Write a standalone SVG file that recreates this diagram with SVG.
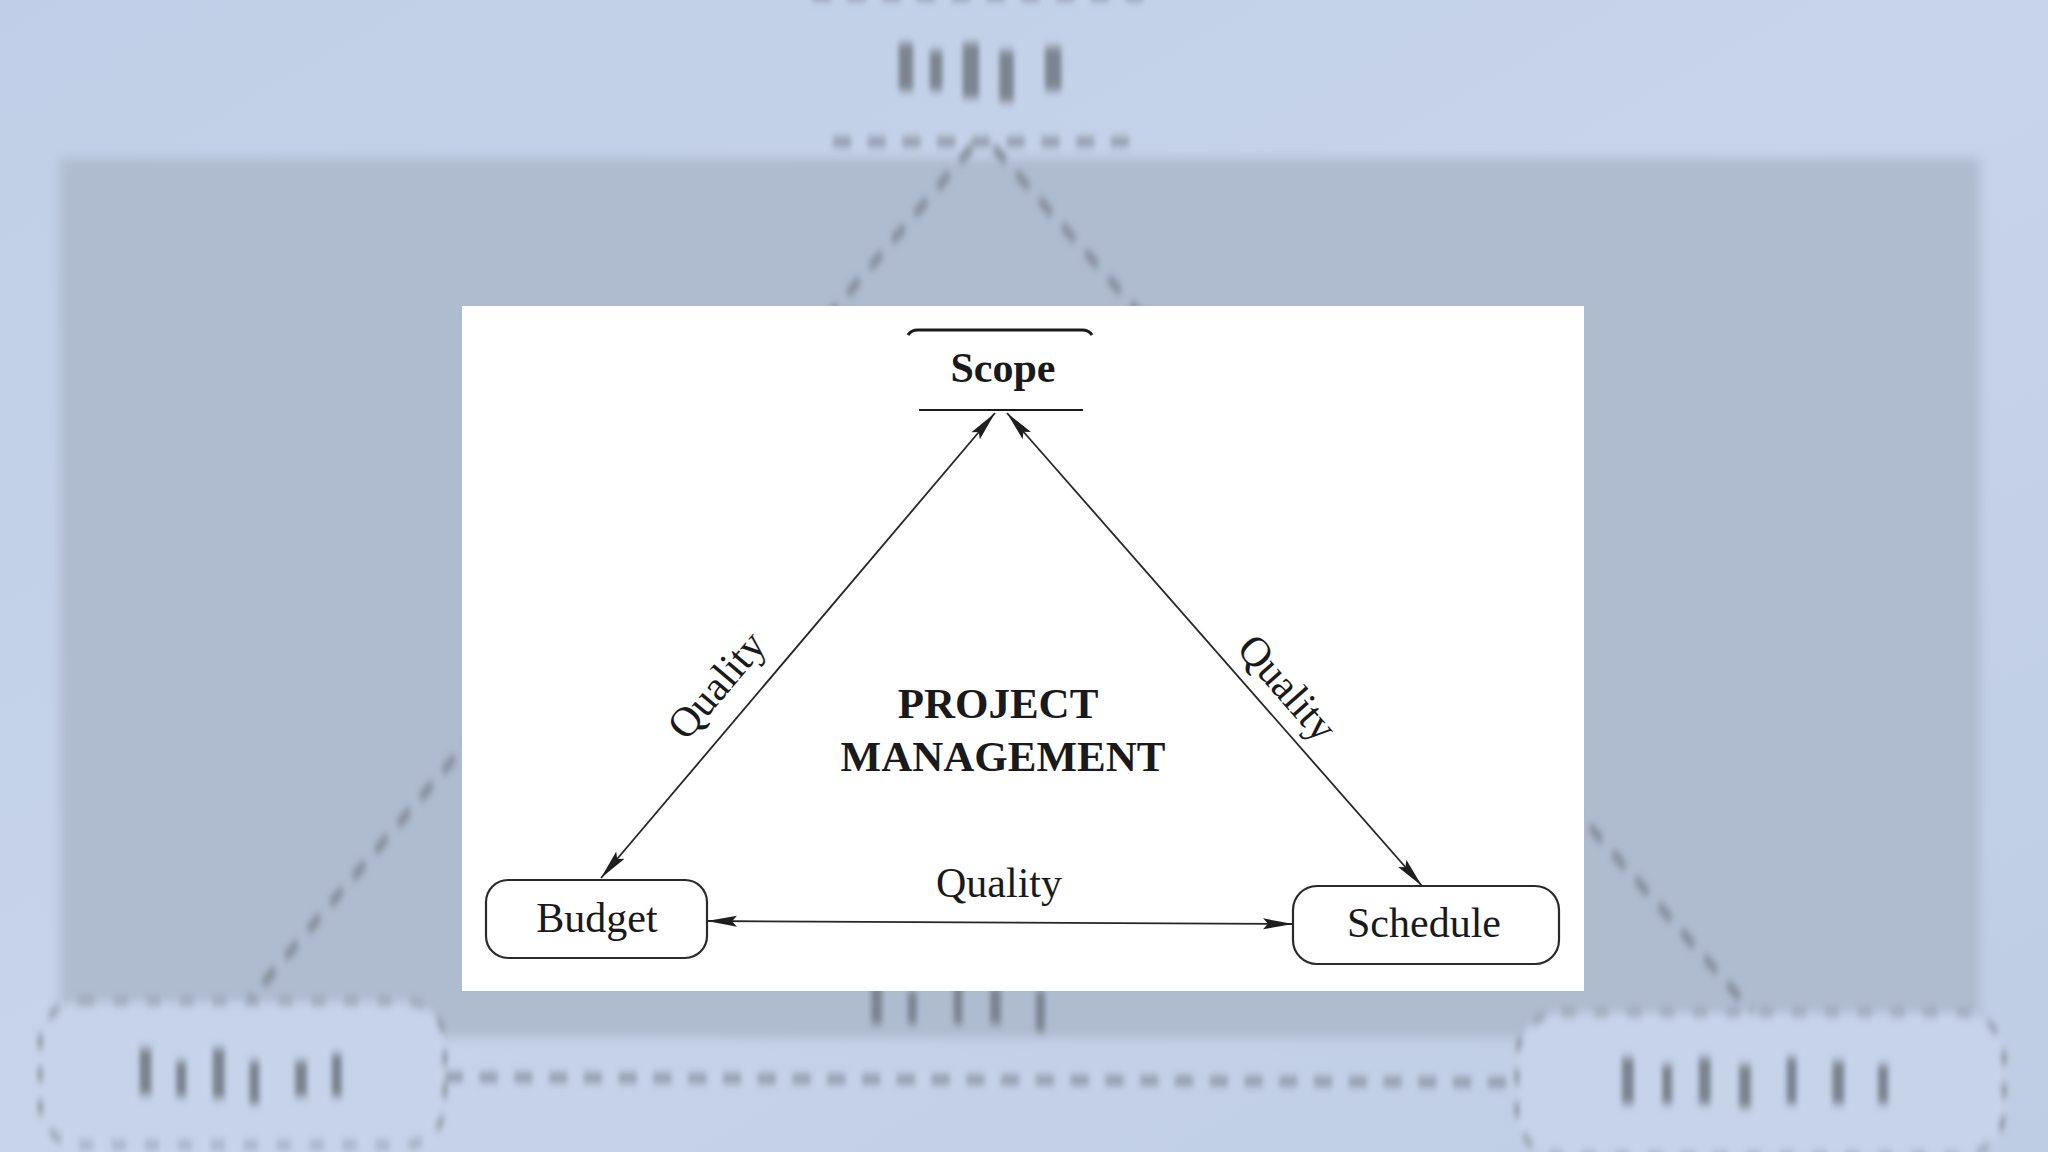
<svg xmlns="http://www.w3.org/2000/svg" width="2048" height="1152" viewBox="0 0 2048 1152">
<style>
.serif{font-family:"Liberation Serif","Times New Roman",serif;fill:#1a1a1a}
.lbl{font-size:42px;text-anchor:middle}
.bold{font-weight:bold}
.conn{stroke:#262626;stroke-width:1.8;fill:none}
.box{fill:#ffffff;stroke:#2a2a2a;stroke-width:2.2}
.ghost{stroke:#7f8896;fill:none;stroke-width:4;stroke-dasharray:10 9}
.gbox{fill:#c6d3e9;stroke:#8d96a4;stroke-width:3;stroke-dasharray:8 10}
.gtxt{fill:#7b8491}
</style>
<defs>
<marker id="ah" viewBox="0 0 30 12" refX="30" refY="6" markerWidth="30" markerHeight="12" markerUnits="userSpaceOnUse" orient="auto-start-reverse">
<path d="M0,0.5 L30,6 L0,11.5 L5,6 Z" fill="#1e1e1e"/>
</marker>
<filter id="blur" x="-10%" y="-10%" width="120%" height="120%"><feGaussianBlur stdDeviation="2.5 5"/></filter>
<filter id="blur2" x="-10%" y="-10%" width="120%" height="120%"><feGaussianBlur stdDeviation="6"/></filter>
<linearGradient id="bg" x1="0" y1="0" x2="1" y2="1">
<stop offset="0" stop-color="#c0cfe7"/>
<stop offset="0.5" stop-color="#c7d4ea"/>
<stop offset="1" stop-color="#bfcde4"/>
</linearGradient>
</defs>

<!-- background -->
<g id="background">
<rect x="0" y="0" width="2048" height="1152" fill="url(#bg)"/>
<rect x="60" y="158" width="1920" height="880" fill="#afbbcf" filter="url(#blur2)"/>
<g filter="url(#blur)">
<g transform="translate(1023,733) scale(1.83) translate(-1023,-733)">
<path d="M908,330 L1092,330" class="ghost"/>
<path d="M919,410 L1083,410" class="ghost"/>
<path d="M995,413 L601,878" class="ghost"/>
<path d="M1007,413 L1422,886" class="ghost"/>
<path d="M707,921 L1293,924" class="ghost"/>
<rect x="486" y="880" width="221" height="78" rx="22" class="gbox"/>
<rect x="1293" y="886" width="266" height="78" rx="24" class="gbox"/>
<g class="gtxt">
<rect x="955" y="356" width="8" height="26"/><rect x="972" y="360" width="7" height="22"/><rect x="990" y="356" width="9" height="30"/><rect x="1010" y="360" width="8" height="28"/><rect x="1035" y="358" width="9" height="24"/>
<rect x="540" y="905" width="7" height="26"/><rect x="560" y="912" width="6" height="20"/><rect x="580" y="905" width="7" height="28"/><rect x="600" y="912" width="6" height="24"/><rect x="625" y="912" width="7" height="20"/><rect x="645" y="908" width="6" height="24"/>
<rect x="1350" y="910" width="7" height="26"/><rect x="1372" y="914" width="6" height="22"/><rect x="1392" y="910" width="7" height="26"/><rect x="1414" y="914" width="7" height="24"/><rect x="1440" y="910" width="6" height="26"/><rect x="1465" y="912" width="7" height="24"/><rect x="1490" y="914" width="6" height="22"/>
<rect x="940" y="870" width="6" height="22"/><rect x="960" y="874" width="5" height="18"/><rect x="985" y="870" width="5" height="22"/><rect x="1005" y="872" width="6" height="20"/><rect x="1030" y="874" width="5" height="22"/>
</g>
</g>
</g>
</g>

<!-- white panel -->
<rect x="462" y="306" width="1122" height="685" fill="#ffffff"/>

<g id="connectors">
<line x1="995" y1="413" x2="601" y2="878" class="conn" marker-start="url(#ah)" marker-end="url(#ah)"/>
<line x1="1007" y1="413" x2="1422" y2="886" class="conn" marker-start="url(#ah)" marker-end="url(#ah)"/>
<line x1="707" y1="921" x2="1293" y2="924" class="conn" marker-start="url(#ah)" marker-end="url(#ah)"/>
<text class="serif lbl" x="727" y="694" transform="rotate(-49.7 727 694)">Quality</text>
<text class="serif lbl" x="1277" y="697" transform="rotate(48.7 1277 697)">Quality</text>
<text class="serif lbl" x="999" y="897">Quality</text>
</g>

<g id="node-scope">
<path d="M908,335 Q911,330 918,330 L1082,330 Q1089,330 1092,335" fill="none" stroke="#1a1a1a" stroke-width="3"/>
<line x1="919" y1="410" x2="1083" y2="410" stroke="#1a1a1a" stroke-width="2"/>
<text class="serif lbl bold" x="1003" y="382">Scope</text>
</g>

<g id="node-budget">
<rect x="486" y="880" width="221" height="78" rx="22" class="box"/>
<text class="serif lbl" x="597" y="932">Budget</text>
</g>

<g id="node-schedule">
<rect x="1293" y="886" width="266" height="78" rx="24" class="box"/>
<text class="serif lbl" x="1424" y="937">Schedule</text>
</g>

<g id="node-center">
<text class="serif bold" x="998" y="718" font-size="43" text-anchor="middle" fill="#333333">PROJECT</text>
<text class="serif bold" x="1003" y="771" font-size="43" text-anchor="middle">MANAGEMENT</text>
</g>
</svg>
